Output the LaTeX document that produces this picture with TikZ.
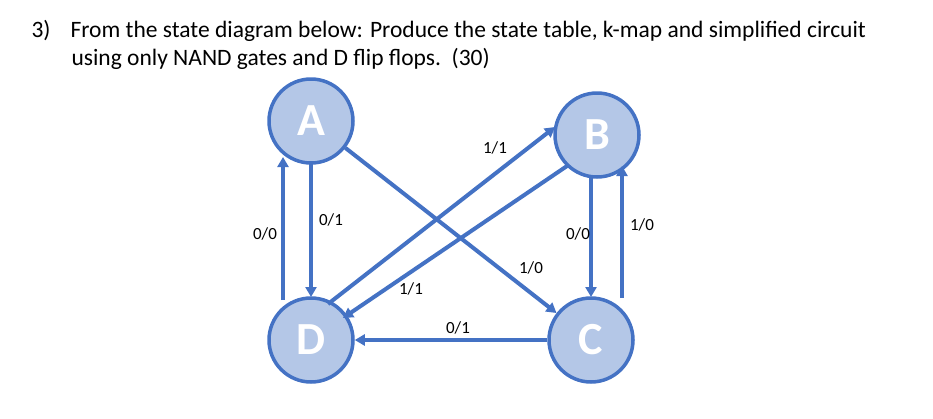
\documentclass[tikz,border=0pt]{standalone}
\usepackage{fontspec}
\setmainfont{Carlito}
\usetikzlibrary{arrows.meta}
\definecolor{cfill}{HTML}{B4C7E7}
\definecolor{cline}{HTML}{4472C4}
\begin{document}
\begin{tikzpicture}[x=1pt,y=-1pt,
  st/.style={circle,draw=cline,line width=3.5pt,fill=cfill,minimum size=84pt,inner sep=0pt,text=white,font=\fontsize{46}{46}\selectfont\bfseries},
  ar/.style={draw=cline,line width=4pt,-{Triangle[length=10pt,width=11pt]}},
  lb/.style={font=\fontsize{17}{17}\selectfont,inner sep=1pt}]
\useasboundingbox (0,0) rectangle (933,418);
\node[anchor=base west,font=\fontsize{23.5}{23.5}\selectfont] (t1) at (28,37) {3)\hspace{20pt}From the state diagram below: Produce the state table, k-map and simplified circuit};
\node[anchor=base west,font=\fontsize{23.5}{23.5}\selectfont] (t2) at (68,65) {using only NAND gates and D flip flops.\ \ (30)};
\node[st] (A) at (311,121) {A};
\node[st] (B) at (597,135) {B};
\node[st] (D) at (311,340) {D};
\node[st] (C) at (591,340) {C};
\coordinate (a1) at (311,164); \coordinate (d1) at (311,297);
\coordinate (d2) at (283,300); \coordinate (a2) at (283,157);
\coordinate (b1) at (591,178); \coordinate (c1) at (591,297);
\coordinate (c2) at (622,298); \coordinate (b2) at (622,166);
\coordinate (d3) at (328,304); \coordinate (b3) at (555,127);
\coordinate (b4) at (567,166); \coordinate (d4) at (343,318);
\draw[ar] (a1) -- (d1);
\draw[ar] (d2) -- (a2);
\draw[ar] (b1) -- (c1);
\draw[ar] (c2) -- (b2);
\draw[ar] (A) -- (C);
\draw[ar] (d3) -- (b3);
\draw[ar] (b4) -- (d4);
\draw[ar] (C) -- (D);
\node[lb] (l1) at (265,234) {0/0};
\node[lb] (l2) at (331,220) {0/1};
\node[lb] (l3) at (578,234) {0/0};
\node[lb] (l4) at (642,225) {1/0};
\node[lb] (l5) at (531,268) {1/0};
\node[lb] (l6) at (495,148) {1/1};
\node[lb] (l7) at (411,289) {1/1};
\node[lb] (l8) at (458,328) {0/1};
\end{tikzpicture}
\end{document}
